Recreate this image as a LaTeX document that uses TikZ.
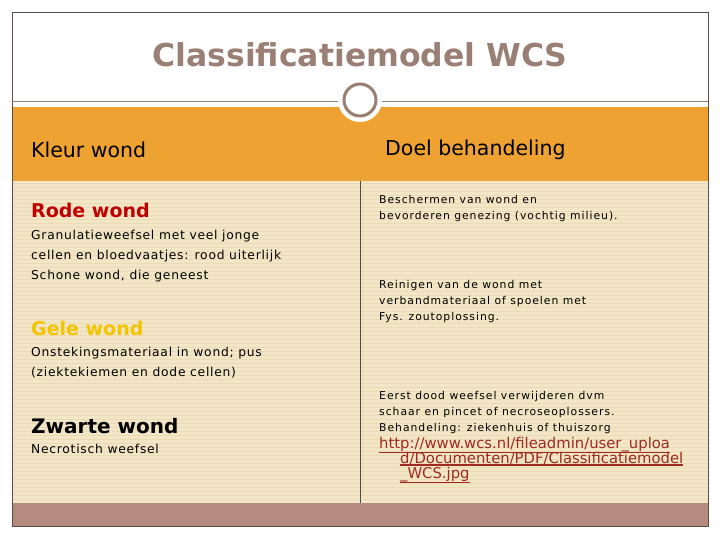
\documentclass[tikz,border=0pt]{standalone}
\usepackage{fontspec}
\setmainfont{DejaVu Sans}
\newfontfamily\spaced[LetterSpace=6]{DejaVu Sans}
\newfontfamily\spacedb[LetterSpace=9]{DejaVu Sans}
\definecolor{titlec}{HTML}{9A7F74}
\definecolor{orangec}{HTML}{EDA231}
\definecolor{bodyc}{HTML}{F2E6C6}
\definecolor{stripec}{HTML}{E9DBB5}
\definecolor{bottomc}{HTML}{B58B80}
\definecolor{redc}{HTML}{C00000}
\definecolor{yelc}{HTML}{F2C500}
\definecolor{linkc}{HTML}{9E2A22}
\tikzset{
 txt/.style={anchor=north west,inner sep=0pt,align=left,font=\spaced\fontsize{12.3}{20}\selectfont},
 rtxt/.style={anchor=north west,inner sep=0pt,align=left,font=\spacedb\fontsize{10.8}{16}\selectfont},
 head/.style={anchor=west,inner sep=0pt,font=\fontsize{20.5}{24}\selectfont},
 bighead/.style={anchor=west,inner sep=0pt,font=\fontsize{19}{22}\selectfont\bfseries},
 lnk/.style={anchor=north west,inner sep=0pt,text=linkc,font=\fontsize{14.8}{17}\selectfont}
}
\begin{document}
\begin{tikzpicture}[x=1pt,y=-1pt]
\useasboundingbox (0,0) rectangle (720,540);
\fill[white] (0,0) rectangle (720,540);
% body
\fill[bodyc] (12,181) rectangle (708,503);
\foreach \y in {183,187,...,501} \draw[stripec,line width=0.8pt] (12,\y) -- (708,\y);
\fill[orangec] (12,107) rectangle (708,181);
\fill[bottomc] (12,503) rectangle (708,526);
\draw[titlec!60!black,line width=0.6pt] (12,12) rectangle (708,526);
\draw[black!70,line width=0.5pt] (360,181) -- (360,503);
% title line and circle
\draw[titlec,line width=0.8pt] (12,101) -- (708,101);
\fill[white] (360,100) circle (22);
\draw[titlec,line width=3pt,fill=white] (360,100) circle (16);
\node[inner sep=0pt,text=titlec,font=\fontsize{31.5}{36}\selectfont\bfseries] (title) at (360,55) {Classificatiemodel WCS};
% headers
\node[head] (h1) at (31,150) {Kleur wond};
\node[head] (h2) at (385,150) {Doel behandeling};
% left column
\node[bighead,text=redc] (rw) at (31,210) {Rode wond};
\node[txt] (rt) at (31,230) {Granulatieweefsel met veel jonge\\cellen en bloedvaatjes: rood uiterlijk\\Schone wond, die geneest};
\node[bighead,text=yelc] (gw) at (31,328) {Gele wond};
\node[txt] (gt) at (31,347) {Onstekingsmateriaal in wond; pus\\(ziektekiemen en dode cellen)};
\node[bighead,font=\fontsize{20}{24}\selectfont\bfseries] (zw) at (31,426) {Zwarte wond};
\node[txt] (zt) at (31,444) {Necrotisch weefsel};
% right column
\node[rtxt] (r1) at (379,195) {Beschermen van wond en\\bevorderen genezing (vochtig milieu).};
\node[rtxt] (r2) at (379,280) {Reinigen van de wond met\\verbandmateriaal of spoelen met\\Fys. zoutoplossing.};
\node[rtxt] (r3) at (379,391) {Eerst dood weefsel verwijderen dvm\\schaar en pincet of necroseoplossers.\\Behandeling: ziekenhuis of thuiszorg};
\node[lnk] (l1) at (379,437) {http://www.wcs.nl/fileadmin/user\_uploa};
\node[lnk] (l2) at (400,452) {d/Documenten/PDF/Classificatiemodel};
\node[lnk] (l3) at (400,467) {\_WCS.jpg};
\draw[linkc,line width=1.2pt] (l1.south west) -- (l1.south east);
\draw[linkc,line width=1.2pt] (l2.south west) -- (l2.south east);
\draw[linkc,line width=1.2pt] (l3.south west) -- (l3.south east);
\end{tikzpicture}
\end{document}
